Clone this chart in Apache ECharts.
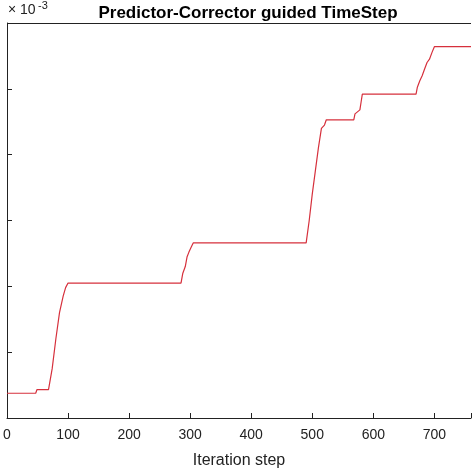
<!DOCTYPE html><html><head><meta charset="utf-8"><script src="https://cdn.jsdelivr.net/npm/echarts@6/dist/echarts.min.js"></script>
<style>body{margin:0}#c{width:474px;height:474px}</style></head><body><div id="c"></div><script>
const xs=[0,47,49,68,70,74,80,86,92,96,100,285,288,292,295,298,302,305,490,495,500,505,510,515,520,523,568,570,578,580,582,670,672,676,680,684,688,692,696,700,760];
const ys=[0.376,0.376,0.43,0.43,0.43,0.75,1.2,1.6,1.85,1.98,2.05,2.05,2.2,2.3,2.45,2.52,2.6,2.66,2.66,3.0,3.4,3.75,4.1,4.4,4.45,4.53,4.53,4.62,4.68,4.8,4.92,4.92,5.02,5.12,5.2,5.3,5.4,5.45,5.55,5.64,5.64];
const xTicks=[0,100,200,300,400,500,600,700];
const ch=echarts.init(document.getElementById('c'));
ch.setOption({animation:false,backgroundColor:'#fff',
title:{text:'Predictor-Corrector guided TimeStep',left:243,top:0,textAlign:'center',textStyle:{fontFamily:'Liberation Sans',fontSize:17,fontWeight:'bold',color:'#000'}},
graphic:[{type:'text',left:8,top:3,style:{text:'× 10',fontFamily:'Liberation Sans',fontSize:14,fill:'#222'}},{type:'text',left:38,top:0,style:{text:'-3',fontFamily:'Liberation Sans',fontSize:11,fill:'#222'}}],
grid:{left:7,top:23,width:475,height:399},
xAxis:{type:'value',min:0,max:760,interval:100,name:'Iteration step',nameLocation:'middle',nameGap:35,nameTextStyle:{fontFamily:'Liberation Sans',fontSize:16,color:'#222'},
axisLine:{lineStyle:{color:'#222'}},axisTick:{inside:true,length:5,lineStyle:{color:'#222'}},splitLine:{show:false},
axisLabel:{fontFamily:'Liberation Sans',fontSize:14,color:'#222',margin:10,formatter:v=>xTicks.includes(v)?String(v):''}},
yAxis:{type:'value',min:0,max:6,interval:1,axisLine:{show:true,lineStyle:{color:'#222'}},axisTick:{inside:true,length:5,lineStyle:{color:'#222'}},axisLabel:{show:false},splitLine:{show:false}},
series:[{type:'line',data:xs.map((x,i)=>[x,ys[i]]),showSymbol:false,lineStyle:{color:'#d6303c',width:1.2}},
{type:'line',data:[],markLine:{silent:true,symbol:'none',label:{show:false},lineStyle:{color:'#222',type:'solid',width:1},data:[[{coord:[0,6]},{coord:[760,6]}]]}}]});
</script></body></html>
